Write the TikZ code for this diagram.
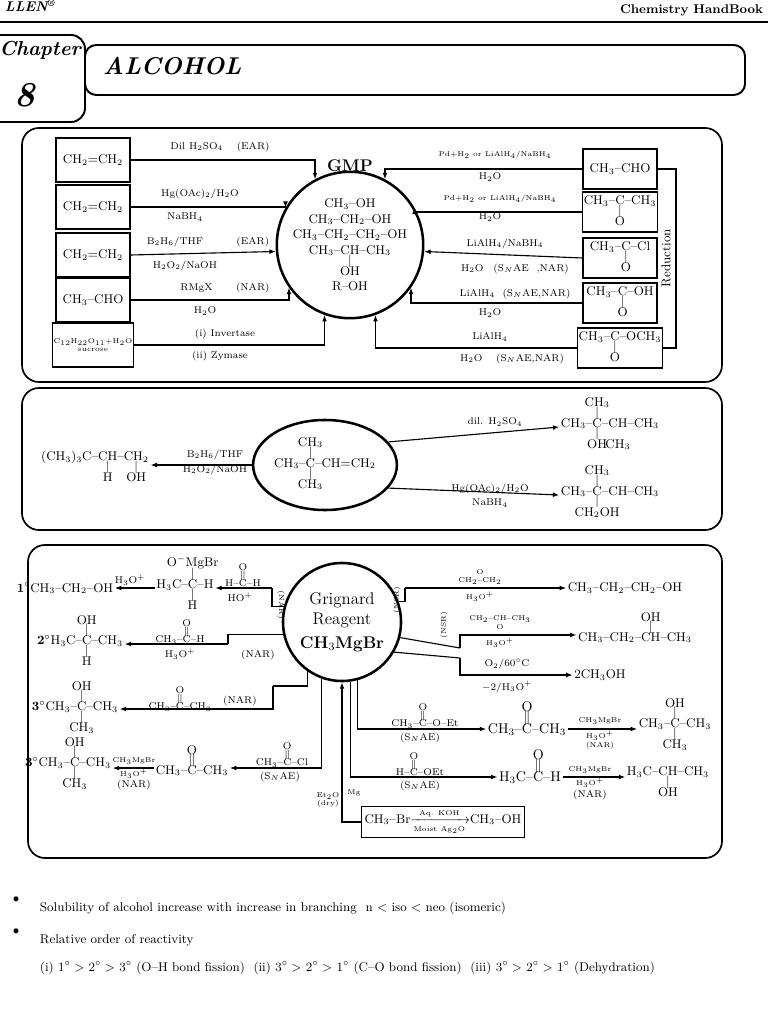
\documentclass[tikz,border=0pt]{standalone}
\usepackage{amsmath,amssymb}
\usepackage{tikz}
\usetikzlibrary{arrows.meta,positioning,shapes.geometric,calc}

\newcommand{\dbo}{\shortstack{O\\[-0.4em]$\|$}}
\newcommand{\up}[1]{\shortstack{#1\\[-0.4em]$|$}}
\newcommand{\dn}[1]{\shortstack{$|$\\[-0.4em]#1}}
\newcommand{\zb}[1]{\makebox[0pt]{#1}}
% full, top only, bottom only
\newcommand{\chem}[5]{\begin{tabular}{@{}r@{}c@{}l@{}}&\zb{#1}&\\[-0.35em]#2&#3&#4\\[-0.35em]&\zb{#5}&\end{tabular}}
\newcommand{\cu}[4]{\begin{tabular}{@{}r@{}c@{}l@{}}&\zb{#1}&\\[-0.35em]#2&#3&#4\end{tabular}}
\newcommand{\cd}[4]{\begin{tabular}{@{}r@{}c@{}l@{}}#1&#2&#3\\[-0.35em]&\zb{#4}&\end{tabular}}

\begin{document}
\begin{tikzpicture}[x=0.025cm, y=-0.025cm,
    panel/.style={draw, line width=1.2pt, rounded corners=12pt},
    sbox/.style={draw, thick, minimum width=1.85cm, minimum height=1.1cm, inner sep=1pt, font=\small, align=center},
    rbox/.style={draw, thick, minimum width=1.85cm, minimum height=1.0cm, inner sep=1pt, font=\small, align=center},
    lab/.style={font=\scriptsize, inner sep=1pt},
    txt/.style={font=\small, inner sep=1pt},
    arr/.style={-{Latex[length=1.6mm]}, thick}
]
    \useasboundingbox (0,0) rectangle (768,1024);
    % header
    \node[anchor=west, font=\bfseries\itshape] (brand) at (0,6) {LLEN\textsuperscript{\textregistered}};
    \node[anchor=east, font=\small\bfseries] (book) at (768,10) {Chemistry HandBook};
    \draw[thick] (0,22) -- (768,22);
    \draw[line width=1.4pt, rounded corners=8pt] (85,45) rectangle (745,95);
    \draw[line width=1.4pt, rounded corners=10pt] (-5,35) -- (85,35) -- (85,122) -- (-5,122);
    \node[font=\Large\bfseries\itshape] (chap) at (40,50) {Chapter};
    \node[font=\Huge\bfseries\itshape] (num) at (25,95) {8};
    \node[anchor=west, font=\LARGE\bfseries\itshape] (title) at (98,66) {ALCOHOL};

    % panel 1 : GMP
    \draw[panel] (22,128) rectangle (722,382);
    \node[circle, draw, line width=1.8pt, minimum size=3.4cm, align=center, font=\small, inner sep=0pt] (gmp) at (350,245)
        {CH$_3$--OH\\CH$_3$--CH$_2$--OH\\CH$_3$--CH$_2$--CH$_2$--OH\\CH$_3$--CH--CH$_3$\\[-0.4em]$|$\\[-0.4em]OH\\R--OH};
    \node[font=\large\bfseries] (gmplab) at (350,166) {GMP};
    \node[sbox] (a1) at (93,160) {CH$_2$=CH$_2$};
    \node[sbox] (a2) at (93,207) {CH$_2$=CH$_2$};
    \node[sbox] (a3) at (93,255) {CH$_2$=CH$_2$};
    \node[sbox] (a4) at (93,300) {CH$_3$--CHO};
    \node[sbox, font=\tiny] (a5) at (93,345) {C$_{12}$H$_{22}$O$_{11}$+H$_2$O\\sucrose};
    \node[rbox] (b1) at (620,169) {CH$_3$--CHO};
    \node[rbox] (b2) at (620,212) {\cd{CH$_3$--}{C}{--CH$_3$}{\dn{O}}};
    \node[rbox] (b3) at (620,258) {\cd{CH$_3$--}{C}{--Cl}{\dn{O}}};
    \node[rbox] (b4) at (620,303) {\cd{CH$_3$--}{C}{--OH}{\dn{O}}};
    \node[rbox] (b5) at (620,348) {\cd{CH$_3$--}{C}{--OCH$_3$}{\dn{O}}};
    \draw[arr] (a1.east) -| (gmp.118);
    \draw[arr] (a2.east) -| (gmp.150);
    \draw[arr] (a3.east) -- (gmp.185);
    \draw[arr] (a4.east) -| (gmp.215);
    \draw[arr] (a5.east) -| (gmp.250);
    \draw[arr] (b1.west) -| (gmp.62);
    \draw[arr] (b2.west) -| (gmp.30);
    \draw[arr] (b3.west) -- (gmp.-5);
    \draw[arr] (b4.west) -| (gmp.-35);
    \draw[arr] (b5.west) -| (gmp.-70);
    \node[lab] (l1) at (220,147) {Dil H$_2$SO$_4$ \quad (EAR)};
    \node[lab] (l2a) at (200,194) {Hg(OAc)$_2$/H$_2$O};
    \node[lab] (l2b) at (185,217) {NaBH$_4$};
    \node[lab] (l3a) at (208,242) {B$_2$H$_6$/THF \qquad\quad (EAR)};
    \node[lab] (l3b) at (185,266) {H$_2$O$_2$/NaOH};
    \node[lab] (l4a) at (225,288) {RMgX \qquad (NAR)};
    \node[lab] (l4b) at (205,311) {H$_2$O};
    \node[lab] (l5a) at (225,334) {(i) Invertase};
    \node[lab] (l5b) at (220,356) {(ii) Zymase};
    \node[lab, font=\tiny] (r1a) at (495,155) {Pd+H$_2$ or LiAlH$_4$/NaBH$_4$};
    \node[lab] (r1b) at (490,177) {H$_2$O};
    \node[lab, font=\tiny] (r2a) at (500,199) {Pd+H$_2$ or LiAlH$_4$/NaBH$_4$};
    \node[lab] (r2b) at (490,217) {H$_2$O};
    \node[lab] (r3a) at (505,244) {LiAlH$_4$/NaBH$_4$};
    \node[lab] (r3b) at (515,269) {H$_2$O\quad(S$_N$AE \ ,NAR)};
    \node[lab] (r4a) at (515,294) {LiAlH$_4$ \ (S$_N$AE,NAR)};
    \node[lab] (r4b) at (490,313) {H$_2$O};
    \node[lab] (r5a) at (490,337) {LiAlH$_4$};
    \node[lab] (r5b) at (512,359) {H$_2$O \quad (S$_N$AE,NAR)};
    \draw[thick] (b1.east) -- (676,169) -- (676,348) -- (b5.east);
    \node[rotate=90, font=\small] (red) at (666,258) {Reduction};

    % panel 2 : hydroboration / oxymercuration
    \draw[panel] (22,388) rectangle (722,530);
    \node[ellipse, draw, line width=1.8pt, minimum width=3.5cm, minimum height=2.25cm, font=\small, inner sep=0pt] (alk) at (325,465)
        {\chem{\up{CH$_3$}}{CH$_3$--}{C}{--CH=CH$_2$}{\dn{CH$_3$}}};
    \node[txt] (hb) at (95,468) {\begin{tabular}{@{}r@{}c@{}c@{}c@{}}(CH$_3$)$_3$C--&CH&--&CH$_2$\\[-0.35em]&\zb{\dn{H}}&&\zb{\dn{OH}}\end{tabular}};
    \draw[arr] (alk.west) -- (hb.east |- alk.west);
    \node[lab] (hba) at (215,455) {B$_2$H$_6$/THF};
    \node[lab] (hbb) at (215,470) {H$_2$O$_2$/NaOH};
    \node[txt] (mk1) at (610,425) {\begin{tabular}{@{}r@{}c@{}c@{}c@{}l@{}}&\zb{\up{CH$_3$}}&&&\\[-0.35em]CH$_3$--&C&--&CH&--CH$_3$\\[-0.35em]&\zb{\dn{OH}}&&\zb{CH$_3$}&\end{tabular}};
    \node[txt] (mk2) at (610,493) {\begin{tabular}{@{}r@{}c@{}c@{}c@{}l@{}}&\zb{\up{CH$_3$}}&&&\\[-0.35em]CH$_3$--&C&--&CH&--CH$_3$\\[-0.35em]&\zb{\dn{CH$_2$OH}}&&&\end{tabular}};
    \draw[arr] (alk.20) -- (mk1.west |- 0,427);
    \draw[arr] (alk.-20) -- (mk2.west |- 0,495);
    \node[lab] (mka) at (495,422) {dil. H$_2$SO$_4$};
    \node[lab] (mkb) at (490,489) {Hg(OAc)$_2$/H$_2$O};
    \node[lab] (mkc) at (490,503) {NaBH$_4$};

    % panel 3 : Grignard reagent
    \draw[panel] (28,545) rectangle (722,858);
    \node[circle, draw, line width=1.8pt, minimum size=2.95cm, align=center, font=\large, inner sep=0pt] (gr) at (342,622)
        {Grignard\\Reagent\\[3pt]\textbf{CH$_3$MgBr}};
    % left branches
    \node[txt] (al1) at (185,585) {\chem{\shortstack{O$^-$MgBr\\[-0.4em]$|$}}{H$_3$C--}{C}{--H}{\dn{H}}};
    \node[txt] (p1) at (65,588) {\textbf{1$^\circ$}CH$_3$--CH$_2$--OH};
    \coordinate (k1) at (272,588);
    \draw[thick] (gr.165) -| (k1);
    \draw[arr] (k1) -- (al1.east |- k1);
    \draw[arr] (al1.west |- k1) -- (p1.east);
    \node[lab] (k1a) at (243,577) {\cu{\dbo}{H--}{C}{--H}};
    \node[lab] (k1b) at (240,597) {HO$^+$};
    \node[lab, rotate=-90, font=\tiny] (k1c) at (281,605) {(NAR)};
    \node[lab] (p1a) at (130,580) {H$_3$O$^+$};
    \node[txt] (p2) at (80,643) {\chem{\up{OH}}{\textbf{2$^\circ$}H$_3$C--}{C}{--CH$_3$}{\dn{H}}};
    \coordinate (k2) at (228,644);
    \draw[thick] (gr.192) -| (k2);
    \draw[arr] (k2) -- (p2.east |- k2);
    \node[lab] (k2a) at (180,633) {\cu{\dbo}{CH$_3$--}{C}{--H}};
    \node[lab] (k2b) at (180,654) {H$_3$O$^+$};
    \node[lab] (k2c) at (258,655) {(NAR)};
    \node[txt] (p3) at (75,709) {\chem{\up{OH}}{\textbf{3$^\circ$}CH$_3$--}{C}{--CH$_3$}{\dn{CH$_3$}}};
    \coordinate (k3b) at (273,686);
    \draw[thick] (gr.235) |- (k3b);
    \draw[arr] (k3b) |- (p3.east);
    \node[lab] (k3a) at (180,700) {\cu{\dbo}{CH$_3$--}{C}{--CH$_3$}};
    \node[lab] (k3c) at (240,701) {(NAR)};
    \node[txt] (ket) at (192,762) {\cu{\dbo}{CH$_3$--}{C}{--CH$_3$}};
    \node[txt] (p4) at (68,765) {\chem{\up{OH}}{\textbf{3$^\circ$}CH$_3$--}{C}{--CH$_3$}{\dn{CH$_3$}}};
    \draw[arr] (gr.250) |- (ket.east |- 0,768);
    \draw[arr] (ket.west |- 0,768) -- (p4.east |- 0,768);
    \node[lab] (k4a) at (282,756) {\cu{\dbo}{CH$_3$--}{C}{--Cl}};
    \node[lab] (k4b) at (280,777) {(S$_N$AE)};
    \node[lab, font=\tiny] (k4c) at (134,761) {CH$_3$MgBr};
    \node[lab, font=\tiny] (k4d) at (134,774) {H$_3$O$^+$};
    \node[lab] (k4e) at (134,785) {(NAR)};
    % right branches
    \node[txt] (q1) at (625,588) {CH$_3$--CH$_2$--CH$_2$--OH};
    \coordinate (m1) at (405,588);
    \draw[thick] (gr.20) -| (m1);
    \draw[arr] (m1) -- (q1.west);
    \node[lab, font=\tiny] (m1a) at (480,577) {\shortstack{O\\[-0.3em]CH$_2$--CH$_2$}};
    \node[lab, font=\tiny] (m1b) at (480,597) {H$_3$O$^+$};
    \node[lab, rotate=90, font=\tiny] (m1c) at (397,600) {(NSR)};
    \node[txt] (q2) at (635,629) {\cu{\up{OH}}{CH$_3$--CH$_2$--}{CH}{--CH$_3$}};
    \coordinate (m2) at (460,648);
    \draw[thick] (gr.-15) -- (m2);
    \draw[arr] (m2) |- (q2.west |- 0,635);
    \node[lab, font=\tiny] (m2a) at (500,623) {\shortstack{CH$_2$--CH--CH$_3$\\[-0.3em]O}};
    \node[lab, font=\tiny] (m2b) at (500,643) {H$_3$O$^+$};
    \node[lab, rotate=90, font=\tiny] (m2c) at (444,625) {(NSR)};
    \node[txt] (q3) at (600,675) {2CH$_3$OH};
    \coordinate (m3) at (460,658);
    \draw[thick] (gr.-30) -- (m3);
    \draw[arr] (m3) |- (q3.west);
    \node[lab] (m3a) at (507,664) {O$_2$/60$^\circ$C};
    \node[lab] (m3b) at (507,687) {$-$2/H$_3$O$^+$};
    \node[font=\normalsize, inner sep=1pt] (ace) at (527,720) {\cu{\dbo}{CH$_3$--}{C}{--CH$_3$}};
    \node[txt] (q4) at (675,726) {\chem{\up{OH}}{CH$_3$--}{C}{--CH$_3$}{\dn{CH$_3$}}};
    \draw[arr] (gr.-75) |- (ace.west |- 0,729);
    \draw[arr] (ace.east |- 0,729) -- (q4.west |- 0,729);
    \node[lab] (m4a) at (425,717) {\cu{\dbo}{CH$_3$--}{C}{--O--Et}};
    \node[lab] (m4b) at (420,738) {(S$_N$AE)};
    \node[lab, font=\tiny] (m4c) at (600,721) {CH$_3$MgBr};
    \node[lab, font=\tiny] (m4d) at (600,736) {H$_3$O$^+$};
    \node[lab, font=\tiny] (m4e) at (600,746) {(NAR)};
    \node[font=\normalsize, inner sep=1pt] (ald) at (530,768) {\cu{\dbo}{H$_3$C--}{C}{--H}};
    \node[txt] (q5) at (668,783) {\cd{H$_3$C--}{CH}{--CH$_3$}{\dn{OH}}};
    \draw[arr] (gr.-82) |- (ald.west |- 0,777);
    \draw[arr] (ald.east |- 0,777) -- (q5.west |- 0,777);
    \node[lab] (m5a) at (420,766) {\cu{\dbo}{H--}{C}{--OEt}};
    \node[lab] (m5b) at (420,786) {(S$_N$AE)};
    \node[lab, font=\tiny] (m5c) at (590,770) {CH$_3$MgBr};
    \node[lab, font=\tiny] (m5d) at (590,783) {H$_3$O$^+$};
    \node[lab] (m5e) at (590,795) {(NAR)};
    \node[draw, thick, font=\small, minimum height=0.7cm, inner sep=2pt] (mebr) at (443,822)
        {CH$_3$--Br$\xrightarrow[\text{\tiny Moist Ag$_2$O}]{\text{\tiny Aq. KOH}}$CH$_3$--OH};
    \draw[arr] (mebr.west) -| (gr.south);
    \node[lab, font=\tiny, align=center] (mg1) at (328,800) {Et$_2$O\\(dry)};
    \node[lab, font=\tiny] (mg2) at (354,793) {Mg};

    % notes
    \node[anchor=west, font=\small] (n1) at (8,900) {$\bullet$};
    \node[anchor=west, font=\small] (t1) at (35,908) {Solubility of alcohol increase with increase in branching \ n $<$ iso $<$ neo (isomeric)};
    \node[anchor=west, font=\small] (n2) at (8,932) {$\bullet$};
    \node[anchor=west, font=\small] (t2) at (35,940) {Relative order of reactivity};
    \node[anchor=west, font=\small] (t3) at (35,968) {(i) 1$^\circ>$ 2$^\circ>$ 3$^\circ$ (O--H bond fission) \ (ii) 3$^\circ>$ 2$^\circ>$ 1$^\circ$ (C--O bond fission) \ (iii) 3$^\circ>$ 2$^\circ>$ 1$^\circ$ (Dehydration)};
\end{tikzpicture}
\end{document}
